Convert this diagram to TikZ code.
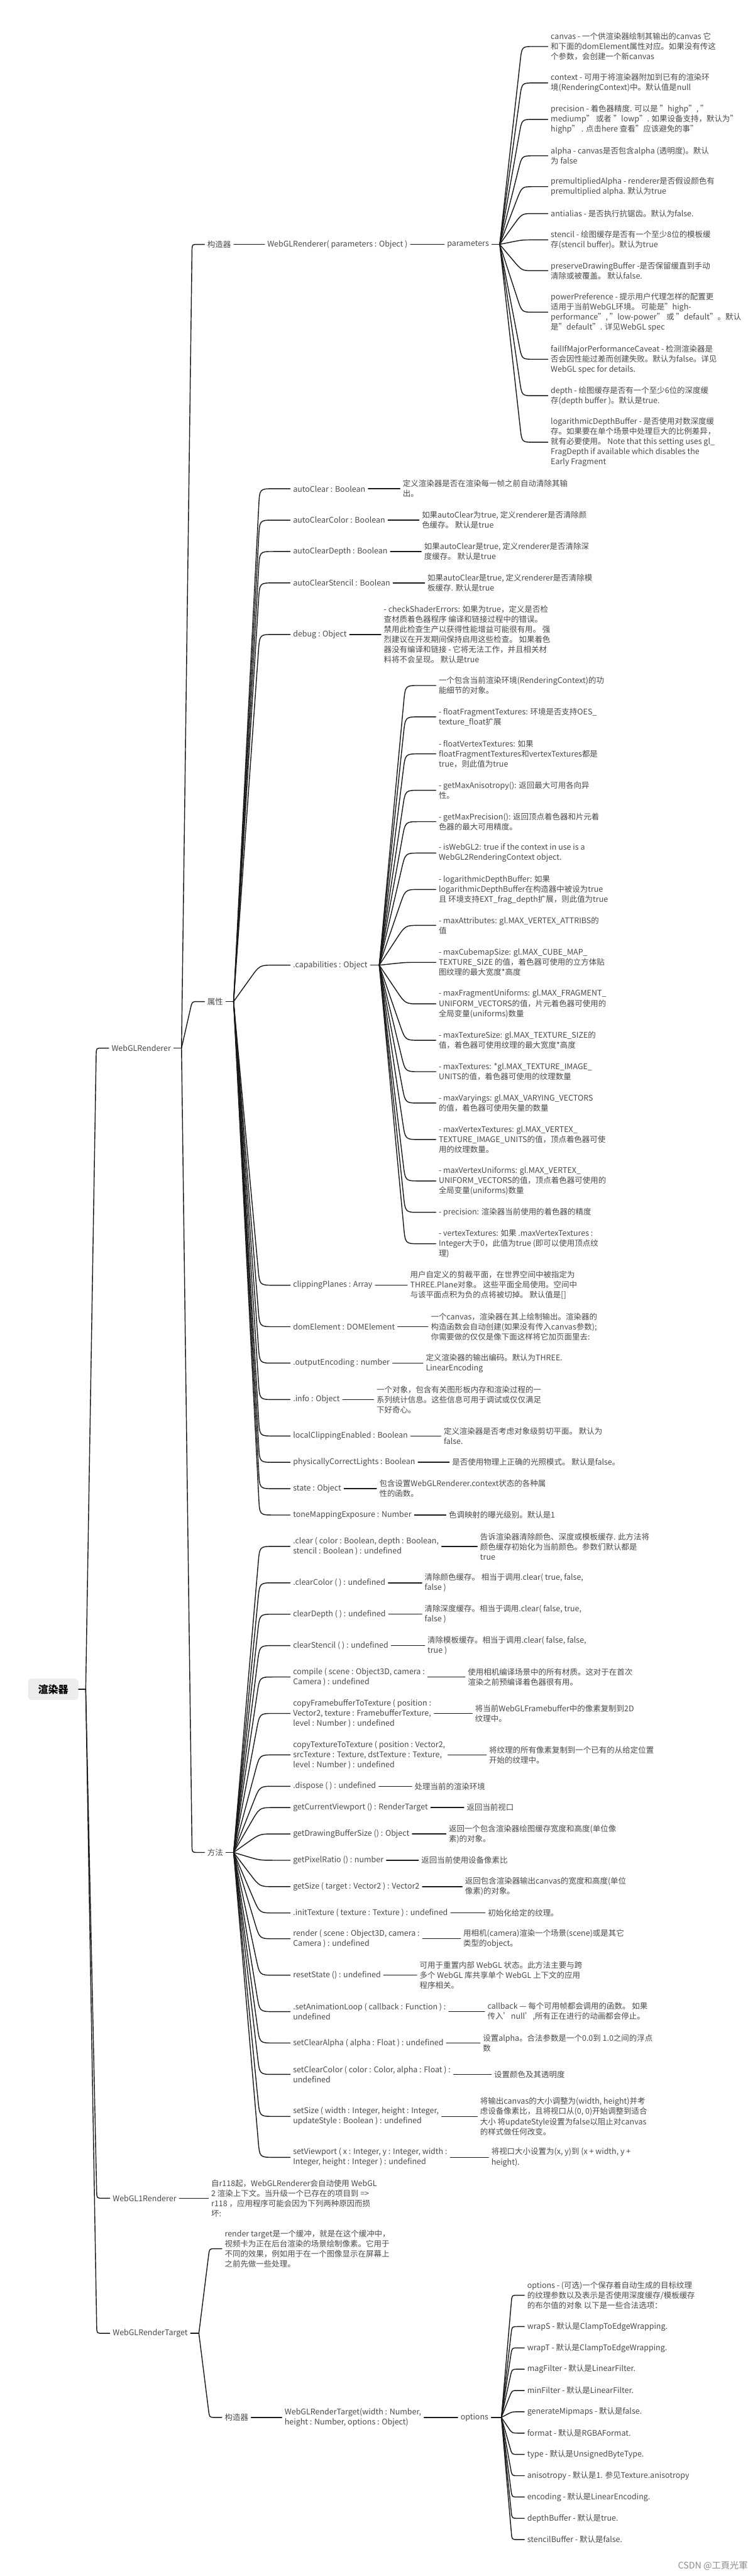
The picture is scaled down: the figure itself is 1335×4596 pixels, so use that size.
\documentclass[tikz,border=0pt]{standalone}
\usepackage{fontspec}
\setmainfont{Noto Sans CJK SC}
\usetikzlibrary{calc}
\definecolor{lnk}{HTML}{1A1A1A}
\definecolor{txc}{HTML}{4A4A4A}
\tikzset{
  conn/.style={draw=lnk,line width=1.6pt,line cap=round,line join=round},
  txt/.style={anchor=west,xshift=-5pt,inner xsep=5pt,inner ysep=0pt,align=left,text=txc,font=\fontsize{14}{18}\selectfont},
  rootbox/.style={rounded corners=7pt,fill=black!7,minimum width=90pt,minimum height=38pt,inner sep=0pt,text=black,font=\bfseries\fontsize{18}{22}\selectfont},
  wmark/.style={anchor=east,inner sep=0pt,text=black!45,font=\fontsize{16}{18}\selectfont}
}
\newcommand\fk[2]{\draw[conn] let \p1=(#1),\p2=(#2.west),\n1={\x2-\x1} in (\p1) -- ($(\x1+0.46*\n1,\y2)!{0.3*\n1}!(\p1)$) .. controls (\x1+0.46*\n1,\y2) .. (\x1+0.7*\n1,\y2) -- (\p2);}
\newcommand\kid[5]{\node[txt] (#2) at (#3,#4) {#5}; \fk{#1}{#2}}
\newcommand\lf[4]{\node[txt] (#2) at (#3,0 |- #1.west) {#4}; \draw[conn] (#1.east) -- (#2.west);}
\newcommand\jn[3]{\coordinate (#2) at (#3,0 |- #1.west); \draw[conn] (#1.east) -- (#2);}
\begin{document}
\begin{tikzpicture}[x=1pt,y=-1pt]
\useasboundingbox (0,0) rectangle (1335,4596);
\fill[white] (0,0) rectangle (1335,4596);
% root
\node[rootbox] (root) at (95,3014) {渲染器};
\coordinate (jr) at (153,3014); \draw[conn] (root.east) -- (jr);
\kid{jr}{wr}{199}{1870}{WebGLRenderer}
\jn{wr}{jw}{324}
\kid{jr}{w1}{201}{3922}{WebGL1Renderer}
\lf{w1}{w1t}{377}{自r118起，WebGLRenderer会自动使用 WebGL\\2 渲染上下文。当升级一个已存在的项目到 =>\\r118 ，应用程序可能会因为下列两种原因而损\\坏:}
\kid{jr}{wt}{201}{4163}{WebGLRenderTarget}
\jn{wt}{jt}{355}
\kid{jt}{wtd}{401}{4012}{render target是一个缓冲，就是在这个缓冲中，\\视频卡为正在后台渲染的场景绘制像素。它用于\\不同的效果，例如用于在一个图像显示在屏幕上\\之前先做一些处理。}
\kid{jt}{wtc}{401}{4313}{构造器}
\lf{wtc}{wtf}{508}{WebGLRenderTarget(width : Number,\\height : Number, options : Object)}
\lf{wtf}{wto}{822}{options}
\jn{wto}{jo}{895}
\kid{jo}{o1}{941}{4095}{options - (可选)一个保存着自动生成的目标纹理\\的纹理参数以及表示是否使用深度缓存/模板缓存\\的布尔值的对象 以下是一些合法选项：}
\kid{jo}{o2}{941}{4151}{wrapS - 默认是ClampToEdgeWrapping.}
\kid{jo}{o3}{941}{4189}{wrapT - 默认是ClampToEdgeWrapping.}
\kid{jo}{o4}{941}{4227}{magFilter - 默认是LinearFilter.}
\kid{jo}{o5}{941}{4265}{minFilter - 默认是LinearFilter.}
\kid{jo}{o6}{941}{4303}{generateMipmaps - 默认是false.}
\kid{jo}{o7}{941}{4341}{format - 默认是RGBAFormat.}
\kid{jo}{o8}{941}{4379}{type - 默认是UnsignedByteType.}
\kid{jo}{o9}{941}{4417}{anisotropy - 默认是1. 参见Texture.anisotropy}
\kid{jo}{o10}{941}{4455}{encoding - 默认是LinearEncoding.}
\kid{jo}{o11}{941}{4493}{depthBuffer - 默认是true.}
\kid{jo}{o12}{941}{4531}{stencilBuffer - 默认是false.}
% constructor
\kid{jw}{ctor}{370}{436}{构造器}
\lf{ctor}{cf}{477}{WebGLRenderer( parameters : Object )}
\lf{cf}{cp}{798}{parameters}
\jn{cp}{jp}{892}
\kid{jp}{p1}{983}{83}{canvas - 一个供渲染器绘制其输出的canvas 它\\和下面的domElement属性对应。如果没有传这\\个参数，会创建一个新canvas}
\kid{jp}{p2}{983}{148}{context - 可用于将渲染器附加到已有的渲染环\\境(RenderingContext)中。默认值是null}
\kid{jp}{p3}{983}{213}{precision - 着色器精度. 可以是 "highp", "\\mediump" 或者 "lowp". 如果设备支持，默认为"\\highp" . 点击here 查看"应该避免的事"}
\kid{jp}{p4}{983}{278}{alpha - canvas是否包含alpha (透明度)。默认\\为 false}
\kid{jp}{p5}{983}{333}{premultipliedAlpha - renderer是否假设颜色有\\premultiplied alpha. 默认为true}
\kid{jp}{p6}{983}{381}{antialias - 是否执行抗锯齿。默认为false.}
\kid{jp}{p7}{983}{428}{stencil - 绘图缓存是否有一个至少8位的模板缓\\存(stencil buffer)。默认为true}
\kid{jp}{p8}{983}{483}{preserveDrawingBuffer -是否保留缓直到手动\\清除或被覆盖。 默认false.}
\kid{jp}{p9}{983}{557}{powerPreference - 提示用户代理怎样的配置更\\适用于当前WebGL环境。 可能是"high-\\performance", "low-power" 或 "default"。默认\\是"default". 详见WebGL spec}
\kid{jp}{p10}{983}{641}{failIfMajorPerformanceCaveat - 检测渲染器是\\否会因性能过差而创建失败。默认为false。详见\\WebGL spec for details.}
\kid{jp}{p11}{983}{706}{depth - 绘图缓存是否有一个至少6位的深度缓\\存(depth buffer )。默认是true.}
\kid{jp}{p12}{983}{789}{logarithmicDepthBuffer - 是否使用对数深度缓\\存。如果要在单个场景中处理巨大的比例差异，\\就有必要使用。 Note that this setting uses gl\_\\FragDepth if available which disables the\\Early Fragment}
% properties
\kid{jw}{prop}{370}{1787}{属性}
\jn{prop}{ja}{417}
\kid{ja}{a1}{523}{872}{autoClear : Boolean}
\lf{a1}{a1t}{719}{定义渲染器是否在渲染每一帧之前自动清除其输\\出。}
\kid{ja}{a2}{523}{928}{autoClearColor : Boolean}
\lf{a2}{a2t}{753}{如果autoClear为true, 定义renderer是否清除颜\\色缓存。 默认是true}
\kid{ja}{a3}{523}{984}{autoClearDepth : Boolean}
\lf{a3}{a3t}{757}{如果autoClear是true, 定义renderer是否清除深\\度缓存。 默认是true}
\kid{ja}{a4}{523}{1040}{autoClearStencil : Boolean}
\lf{a4}{a4t}{763}{如果autoClear是true, 定义renderer是否清除模\\板缓存. 默认是true}
\kid{ja}{a5}{523}{1132}{debug : Object}
\lf{a5}{a5t}{685}{- checkShaderErrors: 如果为true，定义是否检\\查材质着色器程序 编译和链接过程中的错误。\\禁用此检查生产以获得性能增益可能很有用。 强\\烈建议在开发期间保持启用这些检查。 如果着色\\器没有编译和链接 - 它将无法工作，并且相关材\\料将不会呈现。 默认是true}
\kid{ja}{a6}{523}{1722}{.capabilities : Object}
\jn{a6}{jc}{677}
\kid{jc}{c1}{783}{1223}{一个包含当前渲染环境(RenderingContext)的功\\能细节的对象。}
\kid{jc}{c2}{783}{1279}{- floatFragmentTextures: 环境是否支持OES\_\\texture\_float扩展}
\kid{jc}{c3}{783}{1345}{- floatVertexTextures: 如果\\floatFragmentTextures和vertexTextures都是\\true，则此值为true}
\kid{jc}{c4}{783}{1410}{- getMaxAnisotropy(): 返回最大可用各向异\\性。}
\kid{jc}{c5}{783}{1466}{- getMaxPrecision(): 返回顶点着色器和片元着\\色器的最大可用精度。}
\kid{jc}{c6}{783}{1522}{- isWebGL2: true if the context in use is a\\WebGL2RenderingContext object.}
\kid{jc}{c7}{783}{1587}{- logarithmicDepthBuffer: 如果\\logarithmicDepthBuffer在构造器中被设为true\\且 环境支持EXT\_frag\_depth扩展，则此值为true}
\kid{jc}{c8}{783}{1651}{- maxAttributes: gl.MAX\_VERTEX\_ATTRIBS的\\值}
\kid{jc}{c9}{783}{1717}{- maxCubemapSize: gl.MAX\_CUBE\_MAP\_\\TEXTURE\_SIZE 的值，着色器可使用的立方体贴\\图纹理的最大宽度*高度}
\kid{jc}{c10}{783}{1791}{- maxFragmentUniforms: gl.MAX\_FRAGMENT\_\\UNIFORM\_VECTORS的值，片元着色器可使用的\\全局变量(uniforms)数量}
\kid{jc}{c11}{783}{1856}{- maxTextureSize: gl.MAX\_TEXTURE\_SIZE的\\值，着色器可使用纹理的最大宽度*高度}
\kid{jc}{c12}{783}{1912}{- maxTextures: *gl.MAX\_TEXTURE\_IMAGE\_\\UNITS的值，着色器可使用的纹理数量}
\kid{jc}{c13}{783}{1968}{- maxVaryings: gl.MAX\_VARYING\_VECTORS\\的值，着色器可使用矢量的数量}
\kid{jc}{c14}{783}{2033}{- maxVertexTextures: gl.MAX\_VERTEX\_\\TEXTURE\_IMAGE\_UNITS的值，顶点着色器可使\\用的纹理数量。}
\kid{jc}{c15}{783}{2107}{- maxVertexUniforms: gl.MAX\_VERTEX\_\\UNIFORM\_VECTORS的值，顶点着色器可使用的\\全局变量(uniforms)数量}
\kid{jc}{c16}{783}{2163}{- precision: 渲染器当前使用的着色器的精度}
\kid{jc}{c17}{783}{2219}{- vertexTextures: 如果 .maxVertexTextures :\\Integer大于0，此值为true (即可以使用顶点纹\\理)}
\kid{ja}{a7}{523}{2293}{clippingPlanes : Array}
\lf{a7}{a7t}{732}{用户自定义的剪裁平面，在世界空间中被指定为\\THREE.Plane对象。 这些平面全局使用。空间中\\与该平面点积为负的点将被切掉。 默认值是[]}
\kid{ja}{a8}{523}{2367}{domElement : DOMElement}
\lf{a8}{a8t}{769}{一个canvas，渲染器在其上绘制输出。渲染器的\\构造函数会自动创建(如果没有传入canvas参数);\\你需要做的仅仅是像下面这样将它加页面里去:}
\kid{ja}{a9}{523}{2432}{.outputEncoding : number}
\lf{a9}{a9t}{760}{定义渲染器的输出编码。默认为THREE.\\LinearEncoding}
\kid{ja}{a10}{523}{2497}{.info : Object}
\lf{a10}{a10t}{672}{一个对象，包含有关图形板内存和渲染过程的一\\系列统计信息。这些信息可用于调试或仅仅满足\\下好奇心。}
\kid{ja}{a11}{523}{2562}{localClippingEnabled : Boolean}
\lf{a11}{a11t}{792}{定义渲染器是否考虑对象级剪切平面。 默认为\\false.}
\kid{ja}{a12}{523}{2609}{physicallyCorrectLights : Boolean}
\lf{a12}{a12t}{807}{是否使用物理上正确的光照模式。 默认是false。}
\kid{ja}{a13}{523}{2656}{state : Object}
\lf{a13}{a13t}{677}{包含设置WebGLRenderer.context状态的各种属\\性的函数。}
\kid{ja}{a14}{523}{2703}{toneMappingExposure : Number}
\lf{a14}{a14t}{801}{色调映射的曝光级别。默认是1}
% methods
\kid{jw}{meth}{370}{3305}{方法}
\jn{meth}{jm}{417}
\kid{jm}{m1}{523}{2759}{.clear ( color : Boolean, depth : Boolean,\\stencil : Boolean ) : undefined}
\lf{m1}{m1t}{857}{告诉渲染器清除颜色、深度或模板缓存. 此方法将\\颜色缓存初始化为当前颜色。参数们默认都是\\true}
\kid{jm}{m2}{523}{2824}{.clearColor ( ) : undefined}
\lf{m2}{m2t}{758}{清除颜色缓存。 相当于调用.clear( true, false,\\false )}
\kid{jm}{m3}{523}{2880}{clearDepth ( ) : undefined}
\lf{m3}{m3t}{758}{清除深度缓存。相当于调用.clear( false, true,\\false )}
\kid{jm}{m4}{523}{2936}{clearStencil ( ) : undefined}
\lf{m4}{m4t}{763}{清除模板缓存。相当于调用.clear( false, false,\\true )}
\kid{jm}{m5}{523}{2992}{compile ( scene : Object3D, camera :\\Camera ) : undefined}
\lf{m5}{m5t}{835}{使用相机编译场景中的所有材质。这对于在首次\\渲染之前预编译着色器很有用。}
\kid{jm}{m6}{523}{3057}{copyFramebufferToTexture ( position :\\Vector2, texture : FramebufferTexture,\\level : Number ) : undefined}
\lf{m6}{m6t}{848}{将当前WebGLFramebuffer中的像素复制到2D\\纹理中。}
\kid{jm}{m7}{523}{3131}{copyTextureToTexture ( position : Vector2,\\srcTexture : Texture, dstTexture : Texture,\\level : Number ) : undefined}
\lf{m7}{m7t}{873}{将纹理的所有像素复制到一个已有的从给定位置\\开始的纹理中。}
\kid{jm}{m8}{523}{3187}{.dispose ( ) : undefined}
\lf{m8}{m8t}{740}{处理当前的渲染环境}
\kid{jm}{m9}{523}{3225}{getCurrentViewport () : RenderTarget}
\lf{m9}{m9t}{833}{返回当前视口}
\kid{jm}{m10}{523}{3272}{getDrawingBufferSize () : Object}
\lf{m10}{m10t}{801}{返回一个包含渲染器绘图缓存宽度和高度(单位像\\素)的对象。}
\kid{jm}{m11}{523}{3319}{getPixelRatio () : number}
\lf{m11}{m11t}{752}{返回当前使用设备像素比}
\kid{jm}{m12}{523}{3366}{getSize ( target : Vector2 ) : Vector2}
\lf{m12}{m12t}{830}{返回包含渲染器输出canvas的宽度和高度(单位\\像素)的对象。}
\kid{jm}{m13}{523}{3413}{.initTexture ( texture : Texture ) : undefined}
\lf{m13}{m13t}{871}{初始化给定的纹理。}
\kid{jm}{m14}{523}{3459}{render ( scene : Object3D, camera :\\Camera ) : undefined}
\lf{m14}{m14t}{827}{用相机(camera)渲染一个场景(scene)或是其它\\类型的object。}
\kid{jm}{m15}{523}{3524}{resetState () : undefined}
\lf{m15}{m15t}{749}{可用于重置内部 WebGL 状态。此方法主要与跨\\多个 WebGL 库共享单个 WebGL 上下文的应用\\程序相关。}
\kid{jm}{m16}{523}{3589}{.setAnimationLoop ( callback : Function ) :\\undefined}
\lf{m16}{m16t}{870}{callback — 每个可用帧都会调用的函数。 如果\\传入'null',所有正在进行的动画都会停止。}
\kid{jm}{m17}{523}{3645}{setClearAlpha ( alpha : Float ) : undefined}
\lf{m17}{m17t}{862}{设置alpha。合法参数是一个0.0到 1.0之间的浮点\\数}
\kid{jm}{m18}{523}{3701}{setClearColor ( color : Color, alpha : Float ) :\\undefined}
\lf{m18}{m18t}{882}{设置颜色及其透明度}
\kid{jm}{m19}{523}{3776}{setSize ( width : Integer, height : Integer,\\updateStyle : Boolean ) : undefined}
\lf{m19}{m19t}{857}{将输出canvas的大小调整为(width, height)并考\\虑设备像素比，且将视口从(0, 0)开始调整到适合\\大小 将updateStyle设置为false以阻止对canvas\\的样式做任何改变。}
\kid{jm}{m20}{523}{3849}{setViewport ( x : Integer, y : Integer, width :\\Integer, height : Integer ) : undefined}
\lf{m20}{m20t}{877}{将视口大小设置为(x, y)到 (x + width, y +\\height).}
\node[wmark] (wm) at (1335,4578) {CSDN @工頁光軍};
\end{tikzpicture}
\end{document}
